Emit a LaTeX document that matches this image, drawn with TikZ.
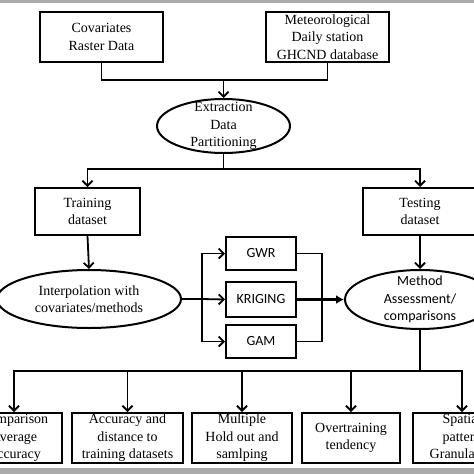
\documentclass[tikz,border=0pt]{standalone}
\usepackage{fontspec}
\setmainfont{Liberation Serif}
\newfontfamily\calib{Carlito}
\usetikzlibrary{arrows.meta,shapes.geometric}

\begin{document}
\begin{tikzpicture}[x=1pt,y=-1pt,
  line width=1.8pt,
  txt/.style={font=\fontsize{14}{17.5}\selectfont,align=center},
  sanstxt/.style={font=\calib\fontsize{14}{17.5}\selectfont,align=center},
  box/.style={draw,rectangle,inner sep=0pt,line width=2pt,txt},
  oval/.style={draw,ellipse,inner sep=0pt,line width=2pt},
  arr/.style={-{Straight Barb[length=5pt,width=10pt]}},
  bigarr/.style={line width=3.2pt,-{Latex[length=8pt,width=9pt]}}]

\useasboundingbox (0,0) rectangle (474,474);
\clip (0,0) rectangle (474,474);

% frame bars
\fill[black!33] (0,0) rectangle (474,3);
\fill[black!33] (0,468) rectangle (474,474);

% data sources
\node[box,minimum width=123,minimum height=50] (cov) at (101.5,37) {Covariates\\Raster Data};
\node[box,minimum width=123,minimum height=50] (met) at (327.5,37) {Meteorological\\Daily station\\GHCND database};

% extraction
\node[oval,minimum width=133,minimum height=54,
  label={[txt]center:Extraction\\Data\\Partitioning}] (extr) at (223.5,126) {};

% datasets
\node[box,minimum width=105,minimum height=47] (train) at (87.5,211.5) {Training\\dataset};
\node[box,minimum width=114,minimum height=47] (test) at (420,211.5) {Testing\\dataset};

% interpolation and methods
\node[oval,minimum width=184,minimum height=58,
  label={[txt]center:Interpolation with\\covariates/methods}] (interp) at (89,299) {};
\node[box,sanstxt,minimum width=70,minimum height=33] (gwr) at (261,253.5) {GWR};
\node[box,sanstxt,minimum width=70,minimum height=35] (krig) at (261,299.5) {KRIGING};
\node[box,sanstxt,minimum width=70,minimum height=33] (gam) at (261,341.5) {GAM};
\node[oval,minimum width=150,minimum height=59,
  label={[sanstxt]center:Method\\Assessment/\\comparisons}] (meth) at (420,299.5) {};

% outcomes
\node[box,minimum width=96,minimum height=50] (comp) at (14,438) {Comparison\\Average\\Accuracy};
\node[box,minimum width=111,minimum height=50] (dist) at (127.5,438) {Accuracy and\\distance to\\training datasets};
\node[box,minimum width=100,minimum height=50] (hold) at (242,438) {Multiple\\Hold out and\\samlping};
\node[box,minimum width=98,minimum height=50] (over) at (351,438) {Overtraining\\tendency};
\node[box,minimum width=98,minimum height=50] (spat) at (462,438) {Spatial\\pattern\\Granularity};

% junction points
\coordinate (merge) at (223.5,80);
\coordinate (split) at (223.5,169);
\coordinate (fork) at (202,299);
\coordinate (collect) at (322,299.5);
\coordinate (spread) at (420,371);

% connectors
\draw (cov.south) |- (merge) -| (met.south);
\draw[arr] (merge) -- (extr.north);
\draw (extr.south) -- (split);
\draw[arr] (split) -| (train.north);
\draw[arr] (split) -| (test.north);
\draw[arr] (train.south) -- (interp.north);
\draw (interp.east) -- (fork);
\draw[arr] (fork) -- (krig.west);
\draw[arr] (fork) |- (gwr.west);
\draw[arr] (fork) |- (gam.west);
\draw (gwr.east) -| (collect) |- (gam.east);
\draw[bigarr] (krig.east) -- (meth.west);
\draw[arr] (test.south) -- (meth.north);
\draw (meth.south) -- (spread);
\foreach \b in {comp,dist,hold,over,spat}
  \draw[arr] (spread) -| (\b.north);
\end{tikzpicture}
\end{document}
